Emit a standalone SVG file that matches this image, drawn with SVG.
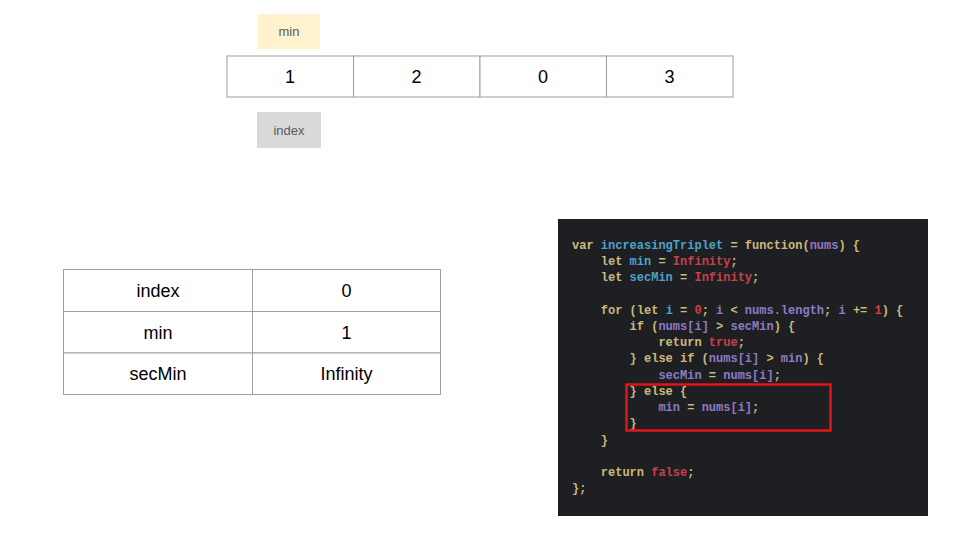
<svg xmlns="http://www.w3.org/2000/svg" width="960" height="540" viewBox="0 0 960 540">
<style>
.cell{fill:#ffffff;stroke:#9e9e9e;stroke-width:1}
.t{font-family:"Liberation Sans",Arial,sans-serif;font-size:18px;fill:#000;text-anchor:middle}
.lab{font-family:"Liberation Sans",Arial,sans-serif;font-size:13px;fill:#595959;text-anchor:middle}
.code{font-family:"Liberation Mono","DejaVu Sans Mono",monospace;font-size:12px;font-weight:bold;white-space:pre;fill:#cdb97a}
.k{fill:#cdb97a}.b{fill:#4ea1c9}.p{fill:#8f7bc2}.r{fill:#c8404a}
</style>
<rect width="960" height="540" fill="#ffffff"/>
<g id="min-label">
<rect x="258" y="14" width="62" height="35" fill="#fff2cc"/>
<text class="lab" x="289" y="36">min</text>
</g>
<g id="array">
<rect class="cell" x="227" y="56" width="126.5" height="41"/>
<rect class="cell" x="353.5" y="56" width="126.5" height="41"/>
<rect class="cell" x="480" y="56" width="126.5" height="41"/>
<rect class="cell" x="606.5" y="56" width="126.5" height="41"/>
<text class="t" x="290" y="83">1</text>
<text class="t" x="416.5" y="83">2</text>
<text class="t" x="543" y="83">0</text>
<text class="t" x="669.5" y="83">3</text>
</g>
<g id="index-label">
<rect x="257" y="112" width="64" height="36" fill="#d9d9d9"/>
<text class="lab" x="289" y="134.5">index</text>
</g>
<g id="table">
<rect class="cell" x="63.5" y="269.5" width="189" height="42"/>
<rect class="cell" x="252.5" y="269.5" width="188" height="42"/>
<rect class="cell" x="63.5" y="311.5" width="189" height="41.5"/>
<rect class="cell" x="252.5" y="311.5" width="188" height="41.5"/>
<rect class="cell" x="63.5" y="353" width="189" height="41.5"/>
<rect class="cell" x="252.5" y="353" width="188" height="41.5"/>
<text class="t" x="158" y="297">index</text>
<text class="t" x="346.5" y="297">0</text>
<text class="t" x="158" y="338.5">min</text>
<text class="t" x="346.5" y="338.5">1</text>
<text class="t" x="158" y="380">secMin</text>
<text class="t" x="346.5" y="380">Infinity</text>
</g>
<g id="code">
<rect x="558" y="219" width="370" height="297" fill="#1e1f22"/>
<text class="code" x="572" y="248.5"><tspan class="k">var </tspan><tspan class="b">increasingTriplet</tspan><tspan class="k"> = function(</tspan><tspan class="p">nums</tspan><tspan class="k">) {</tspan></text>
<text class="code" x="572" y="264.75"><tspan class="k">    let </tspan><tspan class="b">min</tspan><tspan class="k"> = </tspan><tspan class="r">Infinity</tspan><tspan class="k">;</tspan></text>
<text class="code" x="572" y="281"><tspan class="k">    let </tspan><tspan class="b">secMin</tspan><tspan class="k"> = </tspan><tspan class="r">Infinity</tspan><tspan class="k">;</tspan></text>
<text class="code" x="572" y="313.5"><tspan class="k">    for (let </tspan><tspan class="b">i</tspan><tspan class="k"> = </tspan><tspan class="r">0</tspan><tspan class="k">; </tspan><tspan class="p">i</tspan><tspan class="k"> &lt; </tspan><tspan class="p">nums.length</tspan><tspan class="k">; </tspan><tspan class="p">i</tspan><tspan class="k"> += </tspan><tspan class="r">1</tspan><tspan class="k">) {</tspan></text>
<text class="code" x="572" y="329.75"><tspan class="k">        if (</tspan><tspan class="p">nums[i]</tspan><tspan class="k"> &gt; </tspan><tspan class="p">secMin</tspan><tspan class="k">) {</tspan></text>
<text class="code" x="572" y="346"><tspan class="k">            return </tspan><tspan class="r">true</tspan><tspan class="k">;</tspan></text>
<text class="code" x="572" y="362.25"><tspan class="k">        } else if (</tspan><tspan class="p">nums[i]</tspan><tspan class="k"> &gt; </tspan><tspan class="p">min</tspan><tspan class="k">) {</tspan></text>
<text class="code" x="572" y="378.5"><tspan class="k">            </tspan><tspan class="p">secMin</tspan><tspan class="k"> = </tspan><tspan class="p">nums[i]</tspan><tspan class="k">;</tspan></text>
<text class="code" x="572" y="394.75"><tspan class="k">        } else {</tspan></text>
<text class="code" x="572" y="411"><tspan class="k">            </tspan><tspan class="p">min</tspan><tspan class="k"> = </tspan><tspan class="p">nums[i]</tspan><tspan class="k">;</tspan></text>
<text class="code" x="572" y="427.25"><tspan class="k">        }</tspan></text>
<text class="code" x="572" y="443.5"><tspan class="k">    }</tspan></text>
<text class="code" x="572" y="476"><tspan class="k">    return </tspan><tspan class="r">false</tspan><tspan class="k">;</tspan></text>
<text class="code" x="572" y="492.25"><tspan class="k">};</tspan></text>
<rect x="626.5" y="384.5" width="204" height="46" fill="none" stroke="#e0161b" stroke-width="2.5"/>
</g>
</svg>
